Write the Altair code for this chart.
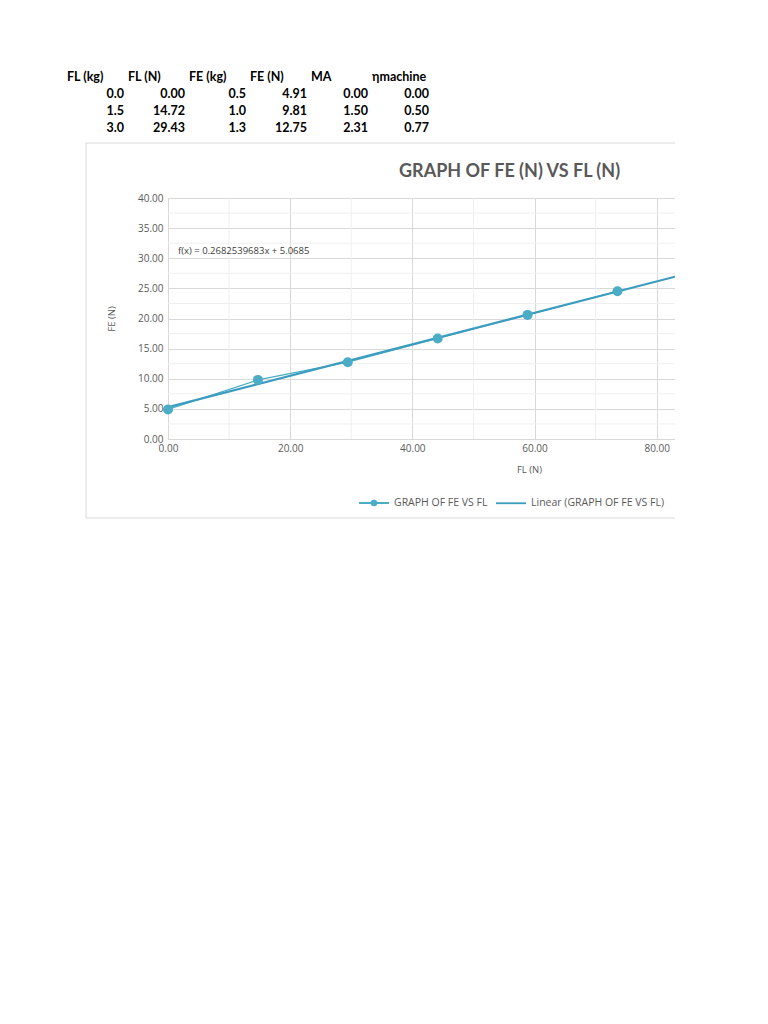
import altair as alt
import pandas as pd

# ---------------- data ----------------
headers = ["FL (kg)", "FL (N)", "FE (kg)", "FE (N)", "MA", "ηmachine"]
fl_kg_col = ["0.0", "1.5", "3.0"]
fl_n_col = ["0.00", "14.72", "29.43"]
fe_kg_col = ["0.5", "1.0", "1.3"]
fe_n_col = ["4.91", "9.81", "12.75"]
ma_col = ["0.00", "1.50", "2.31"]
eta_col = ["0.00", "0.50", "0.77"]

fl_values = [0.00, 14.72, 29.43, 44.15, 58.86, 73.58]
fe_values = [4.91, 9.81, 12.75, 16.68, 20.60, 24.53]

series_name = "GRAPH OF FE VS FL"
trend_name = "Linear (GRAPH OF FE VS FL)"
equation_text = "f(x) = 0.2682539683x + 5.0685"
chart_title = "GRAPH OF FE (N) VS FL (N)"

x_ticks = [0, 20, 40, 60, 80]
y_ticks = [0, 5, 10, 15, 20, 25, 30, 35, 40]
x_minor = [10, 30, 50, 70]
y_minor = [2.5, 7.5, 12.5, 17.5, 22.5, 27.5, 32.5, 37.5]

# ---------------- table ----------------
table_cols = [fl_kg_col, fl_n_col, fe_kg_col, fe_n_col, ma_col, eta_col]
records = []
for h, col in zip(headers, table_cols):
    records.append({"col": h, "r": 0, "txt": h, "kind": "head"})
    for i, v in enumerate(col):
        records.append({"col": h, "r": i + 1, "txt": v, "kind": "val"})
tdf = pd.DataFrame(records)

tx = alt.X("col:N", sort=headers, axis=None,
           scale=alt.Scale(type="point", range=[-44, 261], padding=0))
ty = alt.Y("r:O", axis=None,
           scale=alt.Scale(type="point", range=[-121, -70], padding=0))

tbase = alt.Chart(tdf)
head_text = tbase.transform_filter("datum.kind == 'head'").mark_text(
    align="left", baseline="middle", dx=-57, font="Lato", fontSize=12.5,
    fontWeight="bold", color="#000000"
).encode(x=tx, y=ty, text="txt:N")
val_text = tbase.transform_filter("datum.kind == 'val'").mark_text(
    align="right", baseline="middle", font="Lato", fontSize=12.5,
    fontWeight="bold", color="#000000"
).encode(x=tx, y=ty, text="txt:N")
table = alt.layer(head_text, val_text)

# ---------------- main chart ----------------
df = pd.DataFrame({"FL": fl_values, "FE": fe_values, "series": series_name})

xscale = alt.Scale(domain=[0, 83], nice=False, zero=False)
yscale = alt.Scale(domain=[0, 40], nice=False)

grid_major = "#d9d9d9"
label_col = "#595959"

x_axis = alt.Axis(
    values=x_ticks, format=".2f", grid=True, gridColor=grid_major, domain=False,
    ticks=False, labelPadding=4, labelFont="Open Sans", labelFontSize=10,
    labelColor=label_col, labelFlush=False, labelOverlap=False,
    title="FL (N)", titleFont="Open Sans",
    titleFontSize=9.5, titleFontWeight="normal", titleColor=label_col,
    titleX=361, titlePadding=11)
y_axis = alt.Axis(
    values=y_ticks, format=".2f", grid=True, gridColor=grid_major, domain=False,
    ticks=False, labelPadding=5, labelFont="Open Sans", labelFontSize=10,
    labelColor=label_col, labelFlush=False, labelOverlap=False,
    title="FE (N)", titleFont="Open Sans",
    titleFontSize=9.5, titleFontWeight="normal", titleColor=label_col,
    titlePadding=21)

x_enc = alt.X("FL:Q", scale=xscale, title="FL (N)", axis=x_axis)
y_enc = alt.Y("FE:Q", scale=yscale, title="FE (N)", axis=y_axis)

color_scale = alt.Scale(domain=[series_name, trend_name], range=["#4bacc6", "#3a9cbf"])
dot_line = ("M-1,0H1M-0.16,0A0.16,0.16 0 1,1 0.16,0A0.16,0.16 0 1,1 -0.16,0"
            "M-0.07,0A0.07,0.07 0 1,1 0.07,0A0.07,0.07 0 1,1 -0.07,0")
plain_line = "M-1,0H1"
shape_scale = alt.Scale(domain=[series_name, trend_name], range=[dot_line, plain_line])

legend_def = alt.Legend(
    title=None, orient="none", legendX=190, legendY=289, direction="horizontal",
    symbolSize=900, labelFont="Open Sans", labelFontSize=10.5, labelColor=label_col,
    symbolStrokeWidth=1.8, columnPadding=4, labelOffset=4)

color_enc = alt.Color("series:N", scale=color_scale, legend=legend_def)

# frame of the chart area
frame = alt.Chart(pd.DataFrame({"k": [0]})).mark_rect(
    filled=False, color="#d9d9d9", strokeWidth=1
).encode(x=alt.value(-82), x2=alt.value(700), y=alt.value(-55), y2=alt.value(320))

title_mark = alt.Chart(pd.DataFrame({"t": [chart_title]})).mark_text(
    align="left", baseline="alphabetic", font="Lato", fontSize=18,
    fontWeight="bold", color=label_col
).encode(x=alt.value(231), y=alt.value(-21), text="t:N")

minor_x = alt.Chart(pd.DataFrame({"FL": x_minor})).mark_rule(
    color="#efefef", strokeWidth=1).encode(x=x_enc)
minor_y = alt.Chart(pd.DataFrame({"FE": y_minor})).mark_rule(
    color="#efefef", strokeWidth=1).encode(y=y_enc)

base = alt.Chart(df)
data_line = base.mark_line(strokeWidth=1.2, clip=True).encode(
    x=x_enc, y=y_enc, color=color_enc)
trend = base.transform_regression(
    "FL", "FE", extent=[0, 83]
).transform_calculate(series=f"'{trend_name}'").mark_line(
    strokeWidth=2.2, clip=True
).encode(x=x_enc, y=y_enc, color=color_enc)
points = base.mark_point(filled=True, size=100, opacity=1).encode(
    x=x_enc, y=y_enc, color=color_enc)
legend_layer = base.transform_filter("false").mark_point(filled=False).encode(
    x=x_enc, y=y_enc, color=color_enc,
    shape=alt.Shape("series:N", scale=shape_scale, legend=legend_def))

eq = alt.Chart(pd.DataFrame({"t": [equation_text]})).mark_text(
    align="left", baseline="middle", font="Open Sans", fontSize=9.5, color="#404040"
).encode(x=alt.value(10), y=alt.value(53), text="t:N")

main = alt.layer(frame, minor_x, minor_y, data_line, trend, points, legend_layer,
                 eq, title_mark)

chart = alt.layer(table, main).resolve_scale(
    x="independent", y="independent"
).properties(
    width=507, height=241,
    autosize=alt.AutoSizeParams(type="none"),
    padding={"left": 160, "top": 190, "right": 0, "bottom": 82},
).configure_view(stroke="transparent").configure(background="white")

chart.save("out.html", embed_options={"renderer": "svg", "actions": False})
